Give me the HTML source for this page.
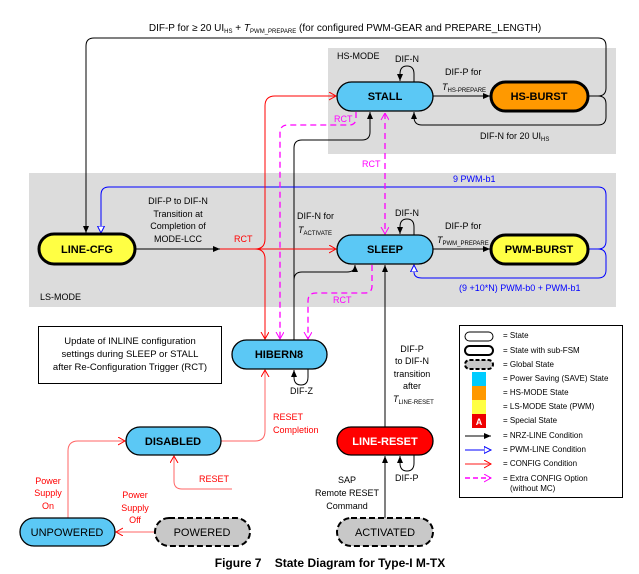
<!DOCTYPE html>
<html><head><style>
body{margin:0;background:#fff;}
svg{display:block;font-family:"Liberation Sans",Arial,sans-serif;}
</style></head><body>
<svg width="639" height="574" viewBox="0 0 639 574" xmlns="http://www.w3.org/2000/svg">
<defs>
<marker id="ab" markerWidth="8" markerHeight="8" refX="7" refY="4" orient="auto" markerUnits="userSpaceOnUse"><path d="M0,1 L7,4 L0,7 z" fill="#000"/></marker>
<marker id="abl" markerWidth="9" markerHeight="9" refX="7" refY="4" orient="auto" markerUnits="userSpaceOnUse"><path d="M0,0.5 L7,4 L0,7.5 z" fill="#fff" stroke="#00f" stroke-width="1"/></marker>
<marker id="ar" markerWidth="9" markerHeight="9" refX="7" refY="4" orient="auto" markerUnits="userSpaceOnUse"><path d="M0,0 L7,4 L0,8" fill="none" stroke="#f00" stroke-width="1"/></marker>
<marker id="am" markerWidth="9" markerHeight="9" refX="7" refY="4" orient="auto" markerUnits="userSpaceOnUse"><path d="M0,0 L7,4 L0,8" fill="none" stroke="#f0f" stroke-width="1" stroke-dasharray="none"/></marker>
<marker id="ams" markerWidth="9" markerHeight="9" refX="0" refY="4" orient="auto" markerUnits="userSpaceOnUse"><path d="M7,0 L0,4 L7,8" fill="none" stroke="#f0f" stroke-width="1"/></marker>
</defs>
<rect x="328" y="48" width="288" height="106" fill="#dcdcdc"/>
<rect x="29" y="173" width="587" height="134" fill="#dcdcdc"/>
<text x="337" y="59" font-size="9">HS-MODE</text>
<text x="40" y="300" font-size="9">LS-MODE</text>

<text x="345" y="31" font-size="10" text-anchor="middle">DIF-P for ≥ 20 UI<tspan font-size="6" dy="2">HS</tspan><tspan dy="-2"> + </tspan><tspan font-style="italic">T</tspan><tspan font-size="6" dy="2">PWM_PREPARE</tspan><tspan dy="-2"> (for configured PWM-GEAR and PREPARE_LENGTH)</tspan></text>

<path d="M588,96 H598 Q606,96 606,88 V46 Q606,38 598,38 H94 Q86,38 86,46 V233" fill="none" stroke="#000" marker-end="url(#ab)"/>
<path d="M588,96 H598 Q606,96 606,104 V117 Q606,125 598,125 H422 Q414,125 414,117 V112" fill="none" stroke="#000" marker-end="url(#ab)"/>
<line x1="433" y1="96" x2="490" y2="96" stroke="#000" marker-end="url(#ab)"/>
<line x1="433" y1="249" x2="490" y2="249" stroke="#000" marker-end="url(#ab)"/>
<line x1="135" y1="249" x2="220" y2="249" stroke="#000" marker-end="url(#ab)"/>
<path d="M294,340 V148 Q294,140 302,140 H362 Q370,140 370,132 V112" fill="none" stroke="#000" marker-end="url(#ab)"/>
<path d="M294,290 V280 Q294,272 302,272 H347 Q355,272 355,265" fill="none" stroke="#000" marker-end="url(#ab)"/>
<line x1="385" y1="427" x2="385" y2="265" stroke="#000" marker-end="url(#ab)"/>
<line x1="385" y1="518" x2="385" y2="456" stroke="#000" marker-end="url(#ab)"/>
<path d="M414,82 V74 Q414,66 407,66 Q400,66 400,74 V81" fill="none" stroke="#000" marker-end="url(#ab)"/>
<path d="M414,235 V227 Q414,219 407,219 Q400,219 400,227 V234" fill="none" stroke="#000" marker-end="url(#ab)"/>
<path d="M414,455 V463 Q414,471 407,471 Q400,471 400,463 V456" fill="none" stroke="#000" marker-end="url(#ab)"/>
<path d="M308,369 V377 Q308,385 301,385 Q294,385 294,377 V370" fill="none" stroke="#000" marker-end="url(#ab)"/>

<path d="M588,249 H598 Q606,249 606,241 V195 Q606,187 598,187 H109 Q101,187 101,195 V233" fill="none" stroke="#00f" marker-end="url(#abl)"/>
<path d="M588,249 H598 Q606,249 606,257 V270 Q606,278 598,278 H422 Q414,278 414,272 V265" fill="none" stroke="#00f" marker-end="url(#abl)"/>

<line x1="220" y1="249" x2="336" y2="249" stroke="#f00" marker-end="url(#ar)"/>
<path d="M255,249 Q265,249 265,239 V106 Q265,96 275,96 H336" fill="none" stroke="#f00" marker-end="url(#ar)"/>
<path d="M255,249 Q265,249 265,259 V339" fill="none" stroke="#f00" marker-end="url(#ar)"/>
<path d="M221,441 H255 Q265,441 265,431 V370" fill="none" stroke="#f66" marker-end="url(#ar)"/>
<path d="M232,489 H182 Q174,489 174,481 V456" fill="none" stroke="#f66" marker-end="url(#ar)"/>
<path d="M68,518 V451 Q68,441 78,441 H125" fill="none" stroke="#f66" marker-end="url(#ar)"/>
<line x1="155" y1="532" x2="116" y2="532" stroke="#f66" marker-end="url(#ar)"/>

<g fill="none" stroke="#f0f" stroke-dasharray="6,4" stroke-width="1.3">
<path d="M356,112 V118 Q356,125 349,125 H288 Q280,125 280,133 V339" marker-end="url(#am)"/>
<path d="M372,265 V286 Q372,293 365,293 H316 Q308,293 308,301 V339" marker-end="url(#am)"/>
<path d="M385,113 V234" marker-start="url(#ams)" marker-end="url(#am)"/>
</g>

<g stroke="#000">
<rect x="337" y="82" width="96" height="29" rx="14.5" fill="#5bc8f5" stroke-width="1.3"/>
<rect x="491" y="82" width="97" height="29" rx="14.5" fill="#ff9900" stroke-width="3"/>
<rect x="337" y="235" width="96" height="29" rx="14.5" fill="#5bc8f5" stroke-width="1.3"/>
<rect x="491" y="235" width="97" height="29" rx="14.5" fill="#ffff44" stroke-width="3"/>
<rect x="39" y="234" width="96" height="30" rx="15" fill="#ffff44" stroke-width="3"/>
<rect x="232" y="340" width="95" height="29" rx="14.5" fill="#5bc8f5" stroke-width="1.3"/>
<rect x="126" y="427" width="95" height="28" rx="14" fill="#5bc8f5" stroke-width="1.3"/>
<rect x="337" y="427" width="96" height="28" rx="14" fill="#ff0000" stroke-width="1.3"/>
<rect x="20" y="518" width="95" height="28" rx="14" fill="#5bc8f5" stroke-width="1.3"/>
<rect x="155" y="518" width="95" height="28" rx="14" fill="#c8c8c8" stroke-width="2" stroke-dasharray="6,3"/>
<rect x="337" y="518" width="96" height="28" rx="14" fill="#c8c8c8" stroke-width="2" stroke-dasharray="6,3"/>
</g>
<g font-size="11" text-anchor="middle" font-weight="bold">
<text x="385" y="100">STALL</text>
<text x="539" y="100">HS-BURST</text>
<text x="385" y="253">SLEEP</text>
<text x="539" y="253">PWM-BURST</text>
<text x="87" y="253">LINE-CFG</text>
<text x="279" y="358">HIBERN8</text>
<text x="173" y="445">DISABLED</text>
<text x="385" y="445" fill="#fff">LINE-RESET</text>
<text x="67" y="536" font-weight="normal">UNPOWERED</text>
<text x="202" y="536" font-weight="normal">POWERED</text>
<text x="385" y="536" font-weight="normal">ACTIVATED</text>
</g>

<g font-size="9">
<text x="395" y="62">DIF-N</text>
<text x="445" y="75">DIF-P for</text>
<text x="442" y="90"><tspan font-style="italic">T</tspan><tspan font-size="6" dy="2">HS-PREPARE</tspan></text>
<text x="480" y="139">DIF-N for 20 UI<tspan font-size="6" dy="2">HS</tspan></text>
<text x="395" y="216">DIF-N</text>
<text x="445" y="229">DIF-P for</text>
<text x="437" y="243"><tspan font-style="italic">T</tspan><tspan font-size="6" dy="2">PWM_PREPARE</tspan></text>
<text x="297" y="219">DIF-N for</text>
<text x="298" y="233"><tspan font-style="italic">T</tspan><tspan font-size="6" dy="2">ACTIVATE</tspan></text>
<g text-anchor="middle">
<text x="178" y="204">DIF-P to DIF-N</text>
<text x="178" y="217">Transition at</text>
<text x="178" y="229">Completion of</text>
<text x="178" y="242">MODE-LCC</text>
</g>
<text x="234" y="242" fill="#f00">RCT</text>
<text x="334" y="122" fill="#f0f">RCT</text>
<text x="362" y="167" fill="#f0f">RCT</text>
<text x="333" y="303" fill="#f0f">RCT</text>
<text x="453" y="182" fill="#00f">9 PWM-b1</text>
<text x="459" y="291" fill="#00f">(9 +10*N) PWM-b0 + PWM-b1</text>
<text x="290" y="394">DIF-Z</text>
<g text-anchor="middle">
<text x="412" y="352">DIF-P</text>
<text x="412" y="364">to DIF-N</text>
<text x="412" y="377">transition</text>
<text x="412" y="389">after</text>
</g>
<text x="393" y="402"><tspan font-style="italic">T</tspan><tspan font-size="6" dy="2">LINE-RESET</tspan></text>
<text x="273" y="420" fill="#f00">RESET</text>
<text x="273" y="433" fill="#f00">Completion</text>
<text x="199" y="482" fill="#f00">RESET</text>
<g text-anchor="middle" fill="#f00">
<text x="48" y="484">Power</text>
<text x="48" y="496">Supply</text>
<text x="48" y="509">On</text>
<text x="135" y="498">Power</text>
<text x="135" y="511">Supply</text>
<text x="135" y="523">Off</text>
</g>
<g text-anchor="middle">
<text x="347" y="483">SAP</text>
<text x="347" y="496">Remote RESET</text>
<text x="347" y="509">Command</text>
</g>
<text x="395" y="481">DIF-P</text>
</g>

<rect x="38.5" y="326.5" width="183" height="57" fill="#fff" stroke="#000"/>
<g font-size="9.5" text-anchor="middle">
<text x="130" y="344">Update of INLINE configuration</text>
<text x="130" y="357">settings during SLEEP or STALL</text>
<text x="130" y="370">after Re-Configuration Trigger (RCT)</text>
</g>

<rect x="459.5" y="325.5" width="163" height="172" fill="#fff" stroke="#000"/>
<rect x="465" y="332" width="28" height="9" rx="4.5" fill="#fff" stroke="#000"/>
<rect x="465" y="346" width="28" height="9" rx="4.5" fill="#fff" stroke="#000" stroke-width="2"/>
<rect x="465" y="360" width="28" height="9" rx="4.5" fill="#c8c8c8" stroke="#000" stroke-width="2" stroke-dasharray="4,2"/>
<rect x="472" y="372" width="14" height="14" fill="#00ccff"/>
<rect x="472" y="386" width="14" height="14" fill="#ff9900"/>
<rect x="472" y="400" width="14" height="14" fill="#ffff44"/>
<rect x="472" y="414" width="14" height="14" fill="#ee0000"/>
<text x="479" y="425" font-size="9" fill="#fff" font-weight="bold" text-anchor="middle">A</text>
<line x1="465" y1="436" x2="491" y2="436" stroke="#000" marker-end="url(#ab)"/>
<line x1="465" y1="450" x2="491" y2="450" stroke="#00f" marker-end="url(#abl)"/>
<line x1="465" y1="464" x2="491" y2="464" stroke="#f66" stroke-width="1.5" marker-end="url(#ar)"/>
<line x1="465" y1="478" x2="491" y2="478" stroke="#f0f" stroke-width="1.5" stroke-dasharray="5,3" marker-end="url(#am)"/>
<g font-size="8">
<text x="503" y="338">= State</text>
<text x="503" y="353">= State with sub-FSM</text>
<text x="503" y="367">= Global State</text>
<text x="503" y="381">= Power Saving (SAVE) State</text>
<text x="503" y="395">= HS-MODE State</text>
<text x="503" y="409">= LS-MODE State (PWM)</text>
<text x="503" y="423">= Special State</text>
<text x="503" y="438">= NRZ-LINE Condition</text>
<text x="503" y="452">= PWM-LINE Condition</text>
<text x="503" y="466">= CONFIG Condition</text>
<text x="503" y="481">= Extra CONFIG Option</text>
<text x="510" y="491">(without MC)</text>
</g>

<text x="330" y="567" font-size="12" font-weight="bold" text-anchor="middle" xml:space="preserve">Figure 7    State Diagram for Type-I M-TX</text>
</svg>
</body></html>
